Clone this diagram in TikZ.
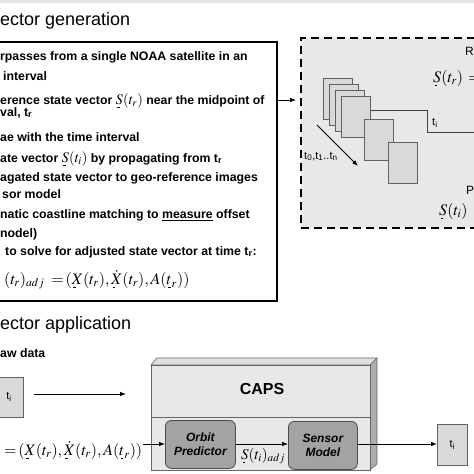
\documentclass[tikz,border=0pt]{standalone}
\usepackage{amsmath}
\usepackage{mathptmx}
\usepackage[no-math]{fontspec}
\setmainfont{Liberation Sans}
\usetikzlibrary{arrows.meta}
\newcommand\vsym[1]{{\rlap{\kern1.5pt\raisebox{-3.2pt}{\rule{2.5pt}{0.45pt}}}#1}}
\newcommand\inmth[1]{{\fontsize{14.5}{14}\selectfont$#1$}}
\begin{document}
\begin{tikzpicture}[x=1pt,y=-1pt,
  txt/.style={anchor=base west,inner sep=0pt,font=\bfseries\fontsize{12.3}{14}\selectfont},
  ttl/.style={anchor=base west,inner sep=0pt,font=\fontsize{18}{20}\selectfont},
  mth/.style={anchor=base west,inner sep=0pt,font=\fontsize{16}{18}\selectfont},
  lbl/.style={inner sep=0pt,font=\fontsize{11}{13}\selectfont},
  img/.style={draw=black!62,fill=black!15,line width=0.8pt,minimum width=29pt,minimum height=41pt,inner sep=0pt,anchor=north west},
  tibox/.style={draw=black!62,fill=black!15,line width=0.8pt,inner sep=0pt,anchor=north west},
  modbox/.style={draw=black!70,fill=black!36,line width=0.8pt,rounded corners=6pt,inner sep=0pt,anchor=north west,minimum width=70pt,minimum height=48pt,align=center,font=\bfseries\itshape\fontsize{12}{14}\selectfont},
  conn/.style={line width=0.8pt,-{Latex[length=6pt,width=4.5pt]}},
  plain/.style={line width=0.8pt}]
\useasboundingbox (0,0) rectangle (474,474);
\fill[black!10] (0,0) rectangle (474,3);
% ---------- top section ----------
\node[ttl] (t1) at (0,25) {ector generation};
\node[draw,line width=1.8pt,inner sep=0pt,anchor=north west,minimum width=286pt,minimum height=259pt] (gbox) at (-10,41) {};
\node[txt] (l1) at (0,60) {rpasses from a single NOAA satellite in an};
\node[txt] (l2) at (3,80) {interval};
\node[txt] (l3) at (0,104) {erence state vector \inmth{\vsym{S}(t_r)} near the midpoint of};
\node[txt] (l4) at (0,116) {val, t\textsubscript{r}};
\node[txt] (l5) at (0,141) {ae with the time interval};
\node[txt] (l6) at (0,162) {ate vector \inmth{\vsym{S}(t_i)} by propagating from t\textsubscript{r}};
\node[txt] (l7) at (0,181) {agated state vector to geo-reference images};
\node[txt] (l8) at (2,198) {sor model};
\node[txt] (l9) at (0,218) {natic coastline matching to \underline{measure} offset};
\node[txt] (l10) at (0,237) {nodel)};
\node[txt] (l11) at (5,255) {to solve for adjusted state vector at time t\textsubscript{r}:};
\node[mth] (l12) at (4,284) {$(t_r)_{adj}\;=\!(\vsym{X}(t_r),\dot{\vsym{X}}(t_r),A(\vsym{t}_r))$};
% dashed box
\node[draw,fill=black!9,line width=2.2pt,dash pattern=on 8pt off 5pt,inner sep=0pt,anchor=north west,minimum width=200pt,minimum height=190pt] (dbox) at (300,37) {};
\coordinate (ca) at (276,100);
\draw[conn] (gbox.east |- ca) -- ([xshift=-4pt]dbox.west |- ca);
\node[lbl,anchor=base west,font=\fontsize{12}{14}\selectfont] (rl) at (465,55) {R};
\node[mth] (sr) at (433,82) {$\vsym{S}(t_r)\,=$};
\node[lbl,anchor=base west,font=\fontsize{12}{14}\selectfont] (pl) at (466,194) {P};
\node[mth] (si) at (439,215) {$\vsym{S}(t_i)$};
\node[img] (r1) at (323,78) {};
\node[img] (r2) at (329,84) {};
\node[img] (r3) at (335,90) {};
\node[img] (r4) at (341,96) {};
\node[img] (r5) at (364,119) {};
\node[img] (r6) at (388,142) {};
\coordinate (p1) at (427,110);
\coordinate (p2) at (427,132);
\coordinate (p3) at (480,132);
\draw[plain,black!75] (r4.east |- p1) -- (p1) -- (p2) -- (p3);
\node[lbl,anchor=base west] (til) at (432,125) {t\textsubscript{i}};
\coordinate (d1) at (317,125);
\coordinate (d2) at (358,166);
\draw[conn] (d1) -- (d2);
\node[lbl,anchor=base west] (tn) at (304,159) {t\textsubscript{0},t\textsubscript{1}..t\textsubscript{n}};
% ---------- bottom section ----------
\node[ttl] (t2) at (0,329) {ector application};
\node[txt] (rw) at (0,357) {aw data};
\node[tibox,minimum width=33pt,minimum height=40pt] (tl) at (-10,377) {};
\node[lbl] (tlt) at (9,397) {t\textsubscript{i}};
\coordinate (e1) at (126,394);
\draw[conn] ([xshift=10pt]tl.east |- e1) -- (e1);
\node[mth] (eq) at (4,455) {$=\!(\vsym{X}(t_r),\dot{\vsym{X}}(t_r),A(\vsym{t}_r))$};
% CAPS 3D box
\fill[black!12,draw=black!60,line width=0.6pt] (151,365) -- (157,358) -- (377,358) -- (370,365) -- cycle;
\fill[black!32,draw=black!60,line width=0.6pt] (370,365) -- (377,358) -- (377,464) -- (370,470) -- cycle;
\node[draw=black!60,fill=black!9,line width=0.6pt,inner sep=0pt,anchor=north west,minimum width=219pt,minimum height=105pt] (caps) at (151,365) {};
\draw[black!60,line width=0.6pt] (151,417) -- (370,417);
\node[inner sep=0pt,font=\bfseries\fontsize{16}{18}\selectfont] (capst) at (262,389) {CAPS};
\node[modbox] (orb) at (165,420) {Orbit\\Predictor};
\node[modbox,minimum width=69pt] (sen) at (288,421) {Sensor\\Model};
\draw[conn] ([xshift=1pt]eq.east |- 0,444) -- (orb.west |- 0,444);
\draw[conn] (orb.east |- 0,444) -- (sen.west |- 0,444);
\node[mth,anchor=base,font=\fontsize{15}{17}\selectfont] (sadj) at (263,459) {$\vsym{S}(t_i)_{adj}$};
\node[tibox,minimum width=30pt,minimum height=41pt] (tr) at (437,424) {};
\node[lbl] (trt) at (tr.center) {t\textsubscript{i}};
\draw[conn] (sen.east |- 0,444) -- (tr.west |- 0,444);
\end{tikzpicture}
\end{document}
